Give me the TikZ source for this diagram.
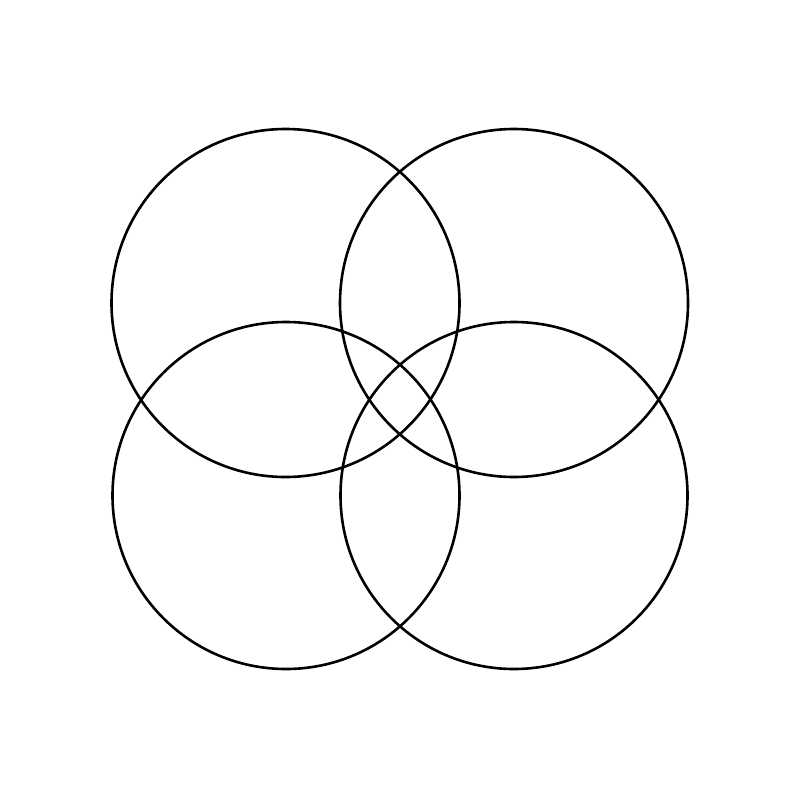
\documentclass[tikz,border=0pt]{standalone}
\begin{document}
\begin{tikzpicture}[x=1pt,y=-1pt,ring/.style={draw=black,line width=2.6pt}]
\useasboundingbox[fill=white] (0,0) rectangle (800,800);
\draw[ring] (285.5,303) circle (174);
\draw[ring] (514,303) circle (174);
\draw[ring] (286,495.5) circle (173.5);
\draw[ring] (514,495.5) circle (173.5);
\end{tikzpicture}
\end{document}
